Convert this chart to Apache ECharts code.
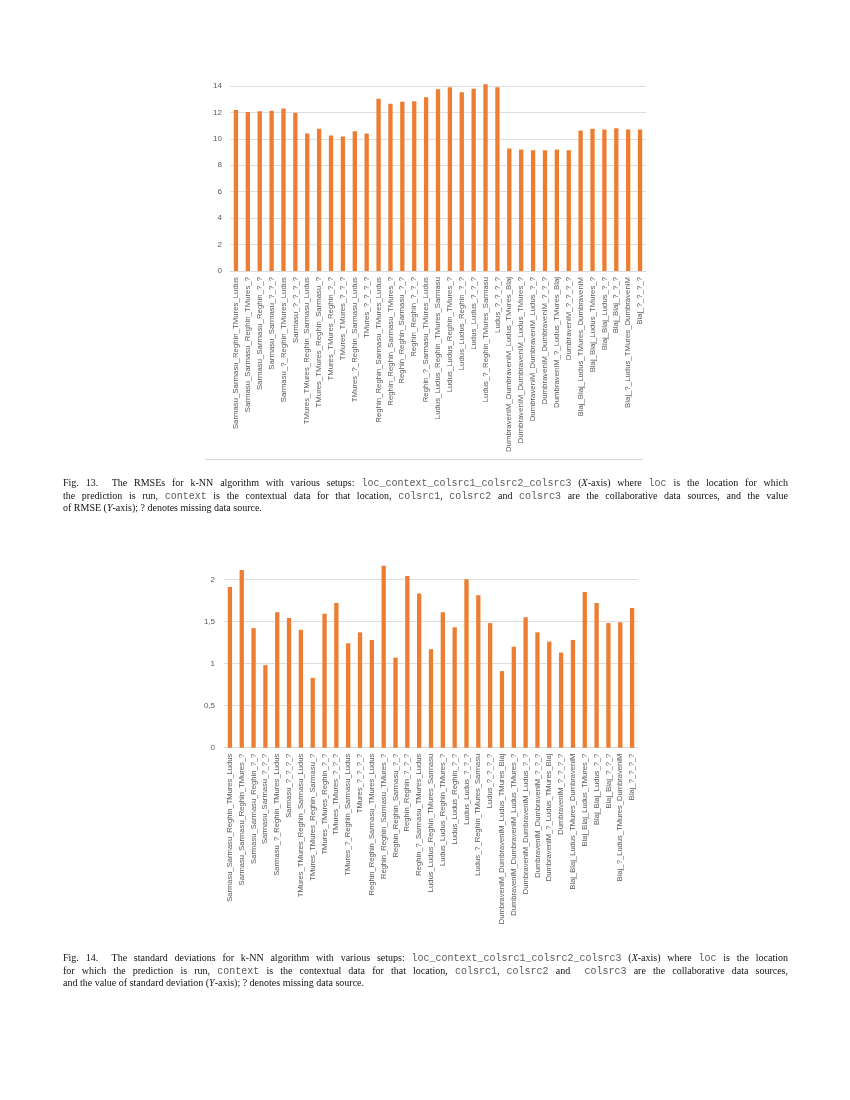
<!DOCTYPE html>
<html>
<head>
<meta charset="utf-8">
<script src="https://cdn.jsdelivr.net/npm/echarts/dist/echarts.min.js"></script>
<style>
  html, body { margin: 0; padding: 0; background: #ffffff; }
  #chart { position: absolute; left: 0; top: 0; width: 850px; height: 1100px; }
  .cap { position: absolute; left: 63px; width: 725px; font-family: "Liberation Serif", "DejaVu Serif", serif; font-size: 10px; line-height: 11.5px; color: #111; }
  .cap div { text-align: justify; text-align-last: justify; white-space: nowrap; }
  .cap div.last { text-align: left; text-align-last: left; }
  .cap code { font-family: "Liberation Mono", "DejaVu Sans Mono", monospace; font-size: 10px; color: #5a5a5a; }
</style>
</head>
<body>
<div id="chart"></div>
<div class="cap" style="top:477px">
  <div>Fig. 13.&nbsp; The RMSEs for k-NN algorithm with various setups: <code>loc_context_colsrc1_colsrc2_colsrc3</code> (<i>X</i>-axis) where <code>loc</code> is the location for which</div>
  <div>the prediction is run, <code>context</code> is the contextual data for that location, <code>colsrc1</code>, <code>colsrc2</code> and <code>colsrc3</code> are the collaborative data sources, and the value</div>
  <div class="last">of RMSE (<i>Y</i>-axis); ? denotes missing data source.</div>
</div>
<div class="cap" style="top:952px">
  <div>Fig. 14.&nbsp; The standard deviations for k-NN algorithm with various setups: <code>loc_context_colsrc1_colsrc2_colsrc3</code> (<i>X</i>-axis) where <code>loc</code> is the location</div>
  <div>for which the prediction is run, <code>context</code> is the contextual data for that location, <code>colsrc1</code>, <code>colsrc2</code> and&nbsp; <code>colsrc3</code> are the collaborative data sources,</div>
  <div class="last">and the value of standard deviation (<i>Y</i>-axis); ? denotes missing data source.</div>
</div>
<script>
const categories = [
  "Sarmasu_Sarmasu_Reghin_TMures_Ludus",
  "Sarmasu_Sarmasu_Reghin_TMures_?",
  "Sarmasu_Sarmasu_Reghin_?_?",
  "Sarmasu_Sarmasu_?_?_?",
  "Sarmasu_?_Reghin_TMures_Ludus",
  "Sarmasu_?_?_?_?",
  "TMures_TMures_Reghin_Sarmasu_Ludus",
  "TMures_TMures_Reghin_Sarmasu_?",
  "TMures_TMures_Reghin_?_?",
  "TMures_TMures_?_?_?",
  "TMures_?_Reghin_Sarmasu_Ludus",
  "TMures_?_?_?_?",
  "Reghin_Reghin_Sarmasu_TMures_Ludus",
  "Reghin_Reghin_Sarmasu_TMures_?",
  "Reghin_Reghin_Sarmasu_?_?",
  "Reghin_Reghin_?_?_?",
  "Reghin_?_Sarmasu_TMures_Ludus",
  "Ludus_Ludus_Reghin_TMures_Sarmasu",
  "Ludus_Ludus_Reghin_TMures_?",
  "Ludus_Ludus_Reghin_?_?",
  "Ludus_Ludus_?_?_?",
  "Ludus_?_Reghin_TMures_Sarmasu",
  "Ludus_?_?_?_?",
  "DumbraveniM_DumbraveniM_Ludus_TMures_Blaj",
  "DumbraveniM_DumbraveniM_Ludus_TMures_?",
  "DumbraveniM_DumbraveniM_Ludus_?_?",
  "DumbraveniM_DumbraveniM_?_?_?",
  "DumbraveniM_?_Ludus_TMures_Blaj",
  "DumbraveniM_?_?_?_?",
  "Blaj_Blaj_Ludus_TMures_DumbraveniM",
  "Blaj_Blaj_Ludus_TMures_?",
  "Blaj_Blaj_Ludus_?_?",
  "Blaj_Blaj_?_?_?",
  "Blaj_?_Ludus_TMures_DumbraveniM",
  "Blaj_?_?_?_?"
];

const rmseValues = [
  12.18, 12.03, 12.08, 12.13, 12.30, 11.97,
  10.40, 10.76, 10.25, 10.18, 10.58, 10.40,
  13.04, 12.66, 12.81, 12.84, 13.14,
  13.75, 13.90, 13.52, 13.80, 14.13, 13.90,
  9.27, 9.19, 9.14, 9.14, 9.19, 9.14,
  10.63, 10.76, 10.71, 10.81, 10.71, 10.71
];

const stdValues = [
  1.91, 2.11, 1.42, 0.98, 1.61, 1.54,
  1.40, 0.83, 1.59, 1.72, 1.24, 1.37,
  1.28, 2.16, 1.07, 2.04, 1.83,
  1.17, 1.61, 1.43, 2.00, 1.81, 1.48,
  0.91, 1.20, 1.55, 1.37, 1.26, 1.13,
  1.28, 1.85, 1.72, 1.48, 1.49, 1.66
];

const rmseTicks = { min: 0, max: 14, step: 2 };
const stdTicks = { min: 0, max: 2, step: 0.5 };

const labelColor = '#595959';
const gridColor = '#dedede';
const barColor = '#ED7D31';

function xAxisCfg(gridIndex, fontSize, margin) {
  return {
    type: 'category', gridIndex: gridIndex, data: categories,
    axisTick: { show: false },
    axisLine: { show: true, lineStyle: { color: '#d9d9d9', width: 1 } },
    axisLabel: {
      interval: 0, rotate: 90, fontSize: fontSize, color: labelColor,
      fontFamily: 'Liberation Sans', margin: margin
    }
  };
}
function yAxisCfg(gridIndex, ticks, margin) {
  return {
    type: 'value', gridIndex: gridIndex,
    min: ticks.min, max: ticks.max, interval: ticks.step,
    axisLine: { show: false }, axisTick: { show: false },
    splitLine: { show: true, lineStyle: { color: gridColor, width: 1 } },
    axisLabel: {
      fontSize: 8, color: labelColor, fontFamily: 'Liberation Sans', margin: margin,
      formatter: v => String(v).replace('.', ',')
    }
  };
}

const chart = echarts.init(document.getElementById('chart'), null, { renderer: 'canvas' });
chart.setOption({
  animation: false,
  backgroundColor: '#ffffff',
  grid: [
    { left: 230, width: 416, top: 86, height: 185 },
    { left: 224, width: 414, top: 579.3, height: 168.4 }
  ],
  xAxis: [xAxisCfg(0, 7.8, 6), xAxisCfg(1, 7.6, 6)],
  yAxis: [yAxisCfg(0, rmseTicks, 8), yAxisCfg(1, stdTicks, 9)],
  graphic: [
    { type: 'line', shape: { x1: 205, y1: 459.5, x2: 643, y2: 459.5 }, style: { stroke: '#d9d9d9', lineWidth: 1 } }
  ],
  series: [
    { type: 'bar', xAxisIndex: 0, yAxisIndex: 0, data: rmseValues, barWidth: 4.3, clip: false,
      itemStyle: { color: barColor } },
    { type: 'bar', xAxisIndex: 1, yAxisIndex: 1, data: stdValues, barWidth: 4.3, clip: false,
      itemStyle: { color: barColor } }
  ]
});
</script>
</body>
</html>
